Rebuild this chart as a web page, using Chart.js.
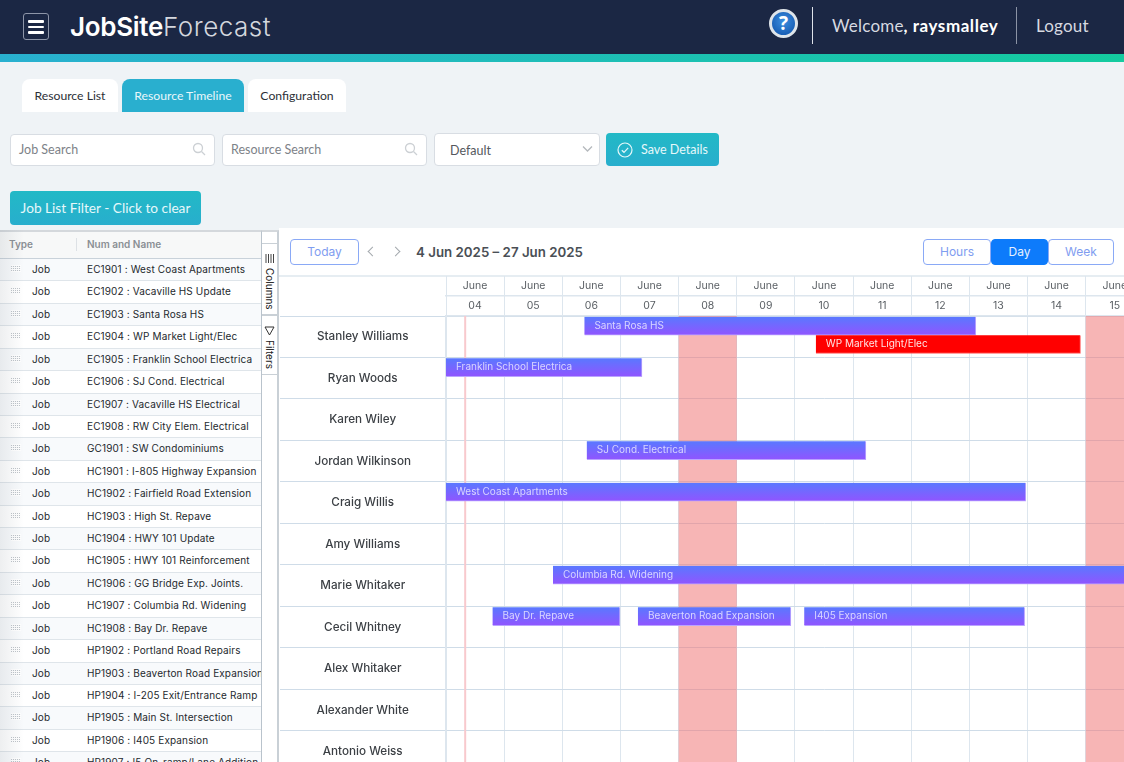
<!DOCTYPE html>
<html><head><meta charset="utf-8">
<script src="https://cdn.jsdelivr.net/npm/chart.js@4/dist/chart.umd.min.js"></script>
<style>
*{box-sizing:border-box}
html,body{margin:0;padding:0;width:1124px;height:762px;overflow:hidden;background:#eff3f6;font-family:Lato,"Noto Sans",sans-serif}
.abs{position:absolute}
#top{left:0;top:0;width:1124px;height:54px;background:#1b2744}
#bar{left:0;top:54px;width:1124px;height:8px;background:linear-gradient(90deg,#29b0d0,#14cb9f)}
#menu{left:23px;top:13px;width:26px;height:27px;border:1px solid #8d95a8;border-radius:3px}
#menu i{position:absolute;left:4px;width:16px;height:2.5px;background:#fff;border-radius:1px}
#logo{left:70px;top:11px;font:600 26px/32px Inter,sans-serif;color:#fff;letter-spacing:-.3px}
#logo span{font-weight:300;color:#d4d7de;letter-spacing:.5px}
.wel{top:14px;font:400 17px/24px Lato,sans-serif;color:#d7dae1;letter-spacing:.2px}
.wel b{color:#fff;letter-spacing:.55px}
.vl{top:7px;width:1px;height:37px}
#help{left:769px;top:9px;width:29px;height:29px;border-radius:50%;background:radial-gradient(circle at 50% 40%,#3d8fe0,#1b62b8 70%);border:3px solid #dfe5ea;color:#fff;font:700 19px/23px "Open Sans",sans-serif;text-align:center}
.tab{top:79px;height:33px;background:#fff;border-radius:8px 8px 0 0;font:400 12.2px/33px Lato,sans-serif;color:#2c2f36;text-align:center}
.tab.on{background:#29afcf;color:#e8f7fb}
.inp{background:#fff;border:1px solid #d8dde3;border-radius:4px;height:32px;font:400 12.5px/30px Lato,sans-serif;color:#7d8288;padding-left:8px}
.btn{background:linear-gradient(#22b9c6,#28aecd);border-radius:4px;color:#e6f8fa;position:absolute}
#side{left:0;top:230px;width:261px;height:532px;background:#fff;overflow:hidden;border-top:2px solid #d4d8dc}
#side .h{height:27px;background:#f7f8f8;border-bottom:1px solid #c9d2da;position:relative;font:600 10px/24px Inter,sans-serif;color:#8a8f94}
.r{height:22.43px;position:relative;border-bottom:1px solid #dfe5ea;font:400 10px/21px Inter,sans-serif;color:#24292e;white-space:nowrap;overflow:hidden;letter-spacing:.13px}
.r:nth-child(odd){background:#f8fafc}
.r b{position:absolute;left:11px;top:6px;width:10px;height:7px;background:repeating-linear-gradient(0deg,#fff 0 1px,transparent 1px 2px),repeating-linear-gradient(90deg,#bfc4c9 0 1px,transparent 1px 2px)}
.r u{position:absolute;left:32px;text-decoration:none}
.r s{position:absolute;left:87px;text-decoration:none}
#shade{left:0;top:230px;width:24px;height:532px;background:linear-gradient(90deg,rgba(120,130,140,.13),rgba(120,130,140,0));pointer-events:none}
#strip{left:261px;top:230px;width:18px;height:532px;background:#fff;border-left:1px solid #b9c3cc;border-right:2px solid #c9d0d6;border-top:2px solid #d4d8dc}
.vt{position:absolute;left:0;width:15px;background:#fff;border-bottom:1px solid #c9d0d6;border-top:1px solid #c9d0d6;font:400 10px/15px Inter,sans-serif;color:#222;}
.vt span{position:absolute;left:0;top:24px;writing-mode:vertical-rl;line-height:15px;white-space:nowrap}
#panel{left:279px;top:228px;width:845px;height:534px;background:#fff;overflow:hidden}
.pb{position:absolute;top:11px;height:26px;border:1px solid #8aa9f6;border-radius:4px;background:#fff;color:#7f9df0;font:400 12px/24px Inter,sans-serif;text-align:center}
#rng{left:137px;top:15px;font:600 13.3px/18px Inter,sans-serif;color:#4a4f55;white-space:nowrap}
.chev{position:absolute;top:20px;width:7px;height:7px;border-left:1.5px solid #a3a8ad;border-bottom:1.5px solid #a3a8ad}
#hl{left:0;top:47px;height:2px;width:845px;background:#e6edf2}
#wrap{position:absolute;left:280px;top:276px;width:922px;height:486px}
</style></head><body>
<div class="abs" id="top"></div><div class="abs" id="bar"></div>
<div class="abs" id="menu"><i style="top:6px"></i><i style="top:11.5px"></i><i style="top:17px"></i></div>
<div class="abs" id="logo">JobSite<span>Forecast</span></div>
<div class="abs" id="help">?</div>
<div class="abs vl" style="left:812px;background:#dfe3ea"></div>
<div class="abs wel" style="left:832px">Welcome<b>, raysmalley</b></div>
<div class="abs vl" style="left:1016px;background:#8b93a5"></div>
<div class="abs wel" style="left:1036px">Logout</div>

<div class="abs tab" style="left:22px;width:96px">Resource List</div>
<div class="abs tab on" style="left:122px;width:122px">Resource Timeline</div>
<div class="abs tab" style="left:248px;width:98px">Configuration</div>

<div class="abs inp" style="left:10px;top:134px;width:205px">Job Search</div>
<div class="abs inp" style="left:222px;top:134px;width:205px">Resource Search</div>
<svg class="abs" style="left:192px;top:142px" width="14" height="14" fill="none" stroke="#ccd0d4" stroke-width="1.3"><circle cx="6" cy="6" r="4.5"/><path d="M9.5 9.5L13 13"/></svg>
<svg class="abs" style="left:404px;top:142px" width="14" height="14" fill="none" stroke="#ccd0d4" stroke-width="1.3"><circle cx="6" cy="6" r="4.5"/><path d="M9.5 9.5L13 13"/></svg>
<div class="abs inp" style="left:434px;top:133px;width:166px;height:33px;padding-left:15px;color:#54585d;line-height:33px">Default</div>
<svg class="abs" style="left:582px;top:145px" width="11" height="8" fill="none" stroke="#b5b9bd" stroke-width="1.3"><path d="M1 1.5L5.5 6L10 1.5"/></svg>
<div class="btn" style="left:606px;top:133px;width:113px;height:33px;font:400 12.5px/33px Lato,sans-serif;padding-left:35px">Save Details</div>
<svg class="abs" style="left:616px;top:141px" width="18" height="18" fill="none" stroke="#e6f8fa" stroke-width="1.2"><circle cx="9" cy="9" r="7"/><path d="M5.8 9.2L8 11.3L12.2 6.8"/></svg>
<div class="btn" style="left:10px;top:191px;width:191px;height:34px;font:400 13.7px/34px Lato,sans-serif;text-align:center">Job List Filter - Click to clear</div>

<div class="abs" id="side"><div class="h"><span style="position:absolute;left:9px">Type</span><span style="position:absolute;left:76px;top:6px;width:1px;height:13px;background:#dde1e5"></span><span style="position:absolute;left:87px">Num and Name</span></div><div id="rows"></div></div>
<div class="abs" id="shade"></div>
<div class="abs" id="strip">
 <div class="vt" style="top:11px;height:72px"><svg style="position:absolute;left:3px;top:10px" width="9" height="9" stroke="#444" stroke-width="1"><path d="M1 0V9M3.5 0V9M6 0V9M8.5 0V9"/></svg><span>Columns</span></div>
 <div class="vt" style="top:83px;height:60px"><svg style="position:absolute;left:2px;top:10px" width="11" height="10" fill="none" stroke="#333" stroke-width="1"><path d="M1 1H10L5.5 9Z"/></svg><span>Filters</span></div>
</div>
<div class="abs" id="panel">
 <div class="pb" style="left:11px;width:69px">Today</div>
 <div class="chev" style="left:90px;transform:rotate(45deg)"></div>
 <div class="chev" style="left:113px;transform:rotate(225deg)"></div>
 <div class="abs" id="rng">4 Jun 2025 – 27 Jun 2025</div>
 <div class="pb" style="left:644px;width:68px">Hours</div>
 <div class="pb" style="left:712px;width:57px;background:#0d7bfb;border-color:#0d7bfb;color:#e6f0ff">Day</div>
 <div class="pb" style="left:769px;width:66px">Week</div>
 <div class="abs" id="hl"></div>
</div>
<div id="wrap"><canvas id="c"></canvas></div>
<script>
// ---- left table ----
const jobTypes = ["Job"];
const jobNames = ["EC1901 : West Coast Apartments","EC1902 : Vacaville HS Update","EC1903 : Santa Rosa HS","EC1904 : WP Market Light/Elec","EC1905 : Franklin School Electrica","EC1906 : SJ Cond. Electrical","EC1907 : Vacaville HS Electrical","EC1908 : RW City Elem. Electrical","GC1901 : SW Condominiums","HC1901 : I-805 Highway Expansion","HC1902 : Fairfield Road Extension","HC1903 : High St. Repave","HC1904 : HWY 101 Update","HC1905 : HWY 101 Reinforcement","HC1906 : GG Bridge Exp. Joints.","HC1907 : Columbia Rd. Widening","HC1908 : Bay Dr. Repave","HP1902 : Portland Road Repairs","HP1903 : Beaverton Road Expansion","HP1904 : I-205 Exit/Entrance Ramp","HP1905 : Main St. Intersection","HP1906 : I405 Expansion","HP1907 : I5 On-ramp/Lane Addition"];
document.getElementById('rows').innerHTML = jobNames.map(n=>`<div class="r"><b></b><u>${jobTypes[0]}</u><s>${n}</s></div>`).join('');

// ---- timeline data (x in day-of-June, y in row units) ----
const resources = ["Stanley Williams","Ryan Woods","Karen Wiley","Jordan Wilkinson","Craig Willis","Amy Williams","Marie Whitaker","Cecil Whitney","Alex Whitaker","Alexander White","Antonio Weiss"];
const monthName = "June";
const weekendDays = [8,15];
const todayMark = 4.33;
const lane1 = 0.24, lane2 = 0.685;
const taskNames = ["Santa Rosa HS","WP Market Light/Elec","Franklin School Electrica","SJ Cond. Electrical","West Coast Apartments","Columbia Rd. Widening","Bay Dr. Repave","Beaverton Road Expansion","I405 Expansion"];
const taskStart = [6.38,10.36,4,6.42,4,5.84,4.8,7.3,10.16];
const taskEnd   = [13.11,14.91,7.37,11.22,13.97,18,6.99,9.93,13.95];
const taskRow   = [0+lane1,0+lane2,1+lane1,3+lane1,4+lane1,6+lane1,7+lane1,7+lane1,7+lane1];
const taskRed   = [false,true,false,false,false,false,false,false,false];

const GRID = '#dde6ee', ROWLINE = '#cfdce8';
const barData = taskNames.map((n,i)=>({x:[taskStart[i],taskEnd[i]],y:taskRow[i],name:n,red:taskRed[i]}));

const decor = {
  id:'decor',
  beforeDatasetsDraw(ch){
    const {ctx,chartArea:a,scales:{x}} = ch;
    ctx.save();
    ctx.fillStyle='rgba(240,120,120,.55)';
    weekendDays.forEach(d=>{const l=x.getPixelForValue(d),r=x.getPixelForValue(d+1);ctx.fillRect(l,a.top,r-l,a.bottom-a.top);});
    ctx.fillStyle='#f8c9cd';
    ctx.fillRect(x.getPixelForValue(todayMark)-1,a.top,2,a.bottom-a.top);
    ctx.restore();
    ch.getDatasetMeta(0).data.forEach((el,i)=>{
      if(barData[i].red) return;
      const g=ctx.createLinearGradient(0,el.y-9,0,el.y+9);
      g.addColorStop(0,'#5a78ff');g.addColorStop(1,'#9055ff');
      el.options=Object.assign({},el.options,{backgroundColor:g});
    });
  },
  afterDatasetsDraw(ch){
    const {ctx,scales:{x,y}} = ch;
    ctx.save();
    ctx.font='400 10px Inter,sans-serif';
    ctx.textBaseline='middle';
    barData.forEach(b=>{
      ctx.fillStyle=b.red?'#ffe3e3':'#d9d6ff';
      ctx.fillText(b.name,x.getPixelForValue(b.x[0])+10,y.getPixelForValue(b.y));
    });
    ctx.restore();
  }
};

const isWhole = v => Math.abs(v-Math.round(v))<1e-6;
const onWhole = col => c => (c.tick && isWhole(c.tick.value)) ? col : 'transparent';
const hdrTicks = (cb)=>({stepSize:.5,includeBounds:false,autoSkip:false,maxRotation:0,minRotation:0,padding:-16,color:'#5a5f64',font:{family:'Inter',size:10.5},callback:cb});
new Chart(document.getElementById('c'),{
  type:'bar',
  plugins:[decor],
  data:{datasets:[{
    data:barData,
    barThickness:18.2,
    borderWidth:{right:1,bottom:1},
    borderSkipped:false,
    borderColor:taskRed.map(r=>r?'#ff5a5a':'#b9a4ff'),
    backgroundColor:taskRed.map(r=>r?'#ff0000':'#7468ff')
  }]},
  options:{
    indexAxis:'y',responsive:true,maintainAspectRatio:false,animation:false,
    layout:{padding:0},
    plugins:{legend:{display:false},tooltip:{enabled:false}},
    parsing:{xAxisKey:'x',yAxisKey:'y'},
    scales:{
      x:{type:'linear',position:'top',min:4,max:17,
        afterFit(s){s.height=20;},
        border:{color:GRID,width:1.5},
        grid:{color:onWhole(GRID),tickColor:onWhole(GRID),tickLength:20},
        ticks:hdrTicks(v=>isWhole(v)?'':String(Math.floor(v)).padStart(2,'0'))
      },
      x2:{type:'linear',position:'top',min:4,max:17,
        afterFit(s){s.height=20;},
        border:{color:GRID,width:1.5},
        grid:{drawOnChartArea:false,color:onWhole(GRID),tickColor:onWhole(GRID),tickLength:20},
        ticks:hdrTicks(v=>isWhole(v)?'':monthName)
      },
      y:{type:'linear',reverse:true,min:0,max:10.747,offset:false,
        afterFit(s){s.width=166;},
        border:{color:GRID,width:1.5},
        grid:{offset:false,color:onWhole(ROWLINE),tickColor:onWhole(ROWLINE),tickLength:166},
        ticks:{stepSize:.5,includeBounds:false,autoSkip:false,crossAlign:'center',padding:-131,color:'#3c4045',font:{family:'Inter',size:11.7,weight:'500'},
          callback:v=>isWhole(v)?'':(resources[Math.floor(v)]||'')}
      }
    }
  }
});
</script>
</body></html>
